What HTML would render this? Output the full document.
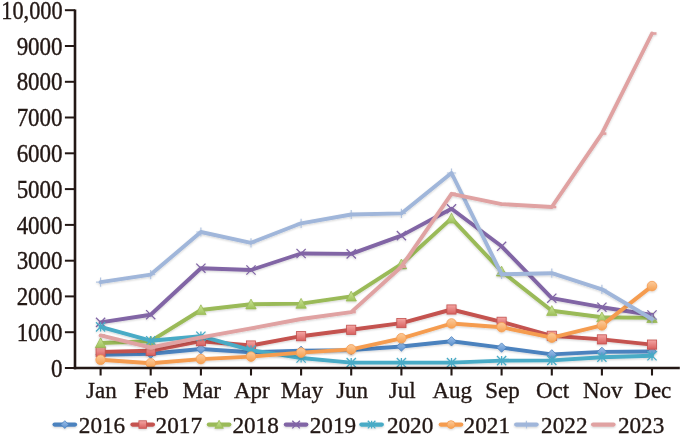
<!DOCTYPE html>
<html><head><meta charset="utf-8"><title>chart</title>
<style>
html,body{margin:0;padding:0;background:#fff;}
svg{display:block;}
text{font-family:"Liberation Serif",serif;font-size:23px;fill:#231815;stroke:#231815;stroke-width:0.35px;}
</style></head><body>
<svg width="685" height="436" viewBox="0 0 685 436">
<defs>
<linearGradient id="g_diamond" x1="0" y1="0" x2="0" y2="1"><stop offset="0" stop-color="#9cc0ea"/><stop offset="1" stop-color="#5a8fcc"/></linearGradient>
<linearGradient id="g_square" x1="0" y1="0" x2="0" y2="1"><stop offset="0" stop-color="#f4a6a4"/><stop offset="1" stop-color="#d8605e"/></linearGradient>
<linearGradient id="g_triangle" x1="0" y1="0" x2="0" y2="1"><stop offset="0" stop-color="#cde69a"/><stop offset="1" stop-color="#9dc05a"/></linearGradient>
<linearGradient id="g_circle" x1="0" y1="0" x2="0" y2="1"><stop offset="0" stop-color="#fccb9c"/><stop offset="1" stop-color="#f6a050"/></linearGradient>
<filter id="sh" filterUnits="userSpaceOnUse" x="0" y="0" width="685" height="436"><feGaussianBlur in="SourceAlpha" stdDeviation="1.2"/><feOffset dx="0" dy="1.2" result="b"/><feComponentTransfer><feFuncA type="linear" slope="0.18"/></feComponentTransfer><feMerge><feMergeNode/><feMergeNode in="SourceGraphic"/></feMerge></filter>
</defs>
<rect width="685" height="436" fill="#fff"/>

<g filter="url(#sh)"><polyline points="100.6,354.8 150.7,353.7 200.9,349.0 251.0,352.3 301.1,350.8 351.2,350.1 401.4,346.5 451.5,341.3 501.6,347.6 551.8,354.4 601.9,351.9 652.0,351.5" fill="none" stroke="#4C82BE" stroke-width="3.9" stroke-linejoin="round" stroke-linecap="round"/>
<path d="M100.6,350.1 L105.3,354.8 L100.6,359.5 L95.9,354.8 Z" fill="url(#g_diamond)" stroke="#4C82BE" stroke-width="0.8"/>
<path d="M150.7,349.0 L155.4,353.7 L150.7,358.4 L146.0,353.7 Z" fill="url(#g_diamond)" stroke="#4C82BE" stroke-width="0.8"/>
<path d="M200.9,344.3 L205.6,349.0 L200.9,353.7 L196.2,349.0 Z" fill="url(#g_diamond)" stroke="#4C82BE" stroke-width="0.8"/>
<path d="M251.0,347.6 L255.7,352.3 L251.0,357.0 L246.3,352.3 Z" fill="url(#g_diamond)" stroke="#4C82BE" stroke-width="0.8"/>
<path d="M301.1,346.1 L305.8,350.8 L301.1,355.5 L296.4,350.8 Z" fill="url(#g_diamond)" stroke="#4C82BE" stroke-width="0.8"/>
<path d="M351.2,345.4 L355.9,350.1 L351.2,354.8 L346.6,350.1 Z" fill="url(#g_diamond)" stroke="#4C82BE" stroke-width="0.8"/>
<path d="M401.4,341.8 L406.1,346.5 L401.4,351.2 L396.7,346.5 Z" fill="url(#g_diamond)" stroke="#4C82BE" stroke-width="0.8"/>
<path d="M451.5,336.6 L456.2,341.3 L451.5,346.0 L446.8,341.3 Z" fill="url(#g_diamond)" stroke="#4C82BE" stroke-width="0.8"/>
<path d="M501.6,342.9 L506.3,347.6 L501.6,352.3 L496.9,347.6 Z" fill="url(#g_diamond)" stroke="#4C82BE" stroke-width="0.8"/>
<path d="M551.8,349.7 L556.5,354.4 L551.8,359.1 L547.1,354.4 Z" fill="url(#g_diamond)" stroke="#4C82BE" stroke-width="0.8"/>
<path d="M601.9,347.2 L606.6,351.9 L601.9,356.6 L597.2,351.9 Z" fill="url(#g_diamond)" stroke="#4C82BE" stroke-width="0.8"/>
<path d="M652.0,346.8 L656.7,351.5 L652.0,356.2 L647.3,351.5 Z" fill="url(#g_diamond)" stroke="#4C82BE" stroke-width="0.8"/>
</g>
<g filter="url(#sh)"><polyline points="100.6,351.9 150.7,350.8 200.9,341.2 251.0,345.5 301.1,336.2 351.2,329.8 401.4,323.1 451.5,309.5 501.6,321.8 551.8,335.8 601.9,339.4 652.0,344.6" fill="none" stroke="#C4524F" stroke-width="3.9" stroke-linejoin="round" stroke-linecap="round"/>
<rect x="96.0" y="347.3" width="9.2" height="9.2" fill="url(#g_square)" stroke="#C4524F" stroke-width="0.8"/>
<rect x="146.1" y="346.2" width="9.2" height="9.2" fill="url(#g_square)" stroke="#C4524F" stroke-width="0.8"/>
<rect x="196.3" y="336.6" width="9.2" height="9.2" fill="url(#g_square)" stroke="#C4524F" stroke-width="0.8"/>
<rect x="246.4" y="340.9" width="9.2" height="9.2" fill="url(#g_square)" stroke="#C4524F" stroke-width="0.8"/>
<rect x="296.5" y="331.6" width="9.2" height="9.2" fill="url(#g_square)" stroke="#C4524F" stroke-width="0.8"/>
<rect x="346.6" y="325.2" width="9.2" height="9.2" fill="url(#g_square)" stroke="#C4524F" stroke-width="0.8"/>
<rect x="396.8" y="318.5" width="9.2" height="9.2" fill="url(#g_square)" stroke="#C4524F" stroke-width="0.8"/>
<rect x="446.9" y="304.9" width="9.2" height="9.2" fill="url(#g_square)" stroke="#C4524F" stroke-width="0.8"/>
<rect x="497.0" y="317.2" width="9.2" height="9.2" fill="url(#g_square)" stroke="#C4524F" stroke-width="0.8"/>
<rect x="547.2" y="331.2" width="9.2" height="9.2" fill="url(#g_square)" stroke="#C4524F" stroke-width="0.8"/>
<rect x="597.3" y="334.8" width="9.2" height="9.2" fill="url(#g_square)" stroke="#C4524F" stroke-width="0.8"/>
<rect x="647.4" y="340.0" width="9.2" height="9.2" fill="url(#g_square)" stroke="#C4524F" stroke-width="0.8"/>
</g>
<g filter="url(#sh)"><polyline points="100.6,343.0 150.7,341.2 200.9,310.0 251.0,304.3 301.1,303.6 351.2,296.4 401.4,264.2 451.5,218.4 501.6,271.4 551.8,310.8 601.9,317.2 652.0,317.9" fill="none" stroke="#9ABA58" stroke-width="3.9" stroke-linejoin="round" stroke-linecap="round"/>
<path d="M100.6,337.8 L105.8,347.6 L95.4,347.6 Z" fill="url(#g_triangle)" stroke="#9ABA58" stroke-width="0.8"/>
<path d="M150.7,336.0 L155.9,345.8 L145.5,345.8 Z" fill="url(#g_triangle)" stroke="#9ABA58" stroke-width="0.8"/>
<path d="M200.9,304.8 L206.1,314.6 L195.7,314.6 Z" fill="url(#g_triangle)" stroke="#9ABA58" stroke-width="0.8"/>
<path d="M251.0,299.1 L256.2,308.9 L245.8,308.9 Z" fill="url(#g_triangle)" stroke="#9ABA58" stroke-width="0.8"/>
<path d="M301.1,298.4 L306.3,308.2 L295.9,308.2 Z" fill="url(#g_triangle)" stroke="#9ABA58" stroke-width="0.8"/>
<path d="M351.2,291.2 L356.4,301.0 L346.1,301.0 Z" fill="url(#g_triangle)" stroke="#9ABA58" stroke-width="0.8"/>
<path d="M401.4,259.0 L406.6,268.8 L396.2,268.8 Z" fill="url(#g_triangle)" stroke="#9ABA58" stroke-width="0.8"/>
<path d="M451.5,213.2 L456.7,223.0 L446.3,223.0 Z" fill="url(#g_triangle)" stroke="#9ABA58" stroke-width="0.8"/>
<path d="M501.6,266.2 L506.8,276.0 L496.4,276.0 Z" fill="url(#g_triangle)" stroke="#9ABA58" stroke-width="0.8"/>
<path d="M551.8,305.6 L557.0,315.4 L546.6,315.4 Z" fill="url(#g_triangle)" stroke="#9ABA58" stroke-width="0.8"/>
<path d="M601.9,312.0 L607.1,321.8 L596.7,321.8 Z" fill="url(#g_triangle)" stroke="#9ABA58" stroke-width="0.8"/>
<path d="M652.0,312.7 L657.2,322.5 L646.8,322.5 Z" fill="url(#g_triangle)" stroke="#9ABA58" stroke-width="0.8"/>
</g>
<g filter="url(#sh)"><polyline points="100.6,322.4 150.7,314.7 200.9,268.2 251.0,270.0 301.1,253.5 351.2,253.9 401.4,235.6 451.5,208.8 501.6,246.3 551.8,298.2 601.9,307.2 652.0,315.0" fill="none" stroke="#8165A5" stroke-width="3.9" stroke-linejoin="round" stroke-linecap="round"/>
<path d="M96.0,317.8 L105.2,327.0 M105.2,317.8 L96.0,327.0" stroke="#8165A5" stroke-width="1.3" fill="none"/>
<path d="M146.1,310.1 L155.3,319.3 M155.3,310.1 L146.1,319.3" stroke="#8165A5" stroke-width="1.3" fill="none"/>
<path d="M196.3,263.6 L205.5,272.8 M205.5,263.6 L196.3,272.8" stroke="#8165A5" stroke-width="1.3" fill="none"/>
<path d="M246.4,265.4 L255.6,274.6 M255.6,265.4 L246.4,274.6" stroke="#8165A5" stroke-width="1.3" fill="none"/>
<path d="M296.5,248.9 L305.7,258.1 M305.7,248.9 L296.5,258.1" stroke="#8165A5" stroke-width="1.3" fill="none"/>
<path d="M346.6,249.3 L355.9,258.5 M355.9,249.3 L346.6,258.5" stroke="#8165A5" stroke-width="1.3" fill="none"/>
<path d="M396.8,231.0 L406.0,240.2 M406.0,231.0 L396.8,240.2" stroke="#8165A5" stroke-width="1.3" fill="none"/>
<path d="M446.9,204.2 L456.1,213.4 M456.1,204.2 L446.9,213.4" stroke="#8165A5" stroke-width="1.3" fill="none"/>
<path d="M497.0,241.7 L506.2,250.9 M506.2,241.7 L497.0,250.9" stroke="#8165A5" stroke-width="1.3" fill="none"/>
<path d="M547.2,293.6 L556.4,302.8 M556.4,293.6 L547.2,302.8" stroke="#8165A5" stroke-width="1.3" fill="none"/>
<path d="M597.3,302.6 L606.5,311.8 M606.5,302.6 L597.3,311.8" stroke="#8165A5" stroke-width="1.3" fill="none"/>
<path d="M647.4,310.4 L656.6,319.6 M656.6,310.4 L647.4,319.6" stroke="#8165A5" stroke-width="1.3" fill="none"/>
</g>
<g filter="url(#sh)"><polyline points="100.6,326.9 150.7,340.7 200.9,336.2 251.0,350.1 301.1,358.0 351.2,362.6 401.4,362.6 451.5,362.6 501.6,360.6 551.8,360.4 601.9,357.2 652.0,355.8" fill="none" stroke="#48ABC6" stroke-width="3.9" stroke-linejoin="round" stroke-linecap="round"/>
<path d="M96.0,322.3 L105.2,331.5 M105.2,322.3 L96.0,331.5 M100.6,322.3 L100.6,331.5" stroke="#48ABC6" stroke-width="1.3" fill="none"/>
<path d="M146.1,336.1 L155.3,345.3 M155.3,336.1 L146.1,345.3 M150.7,336.1 L150.7,345.3" stroke="#48ABC6" stroke-width="1.3" fill="none"/>
<path d="M196.3,331.6 L205.5,340.8 M205.5,331.6 L196.3,340.8 M200.9,331.6 L200.9,340.8" stroke="#48ABC6" stroke-width="1.3" fill="none"/>
<path d="M246.4,345.5 L255.6,354.7 M255.6,345.5 L246.4,354.7 M251.0,345.5 L251.0,354.7" stroke="#48ABC6" stroke-width="1.3" fill="none"/>
<path d="M296.5,353.4 L305.7,362.6 M305.7,353.4 L296.5,362.6 M301.1,353.4 L301.1,362.6" stroke="#48ABC6" stroke-width="1.3" fill="none"/>
<path d="M346.6,358.0 L355.9,367.2 M355.9,358.0 L346.6,367.2 M351.2,358.0 L351.2,367.2" stroke="#48ABC6" stroke-width="1.3" fill="none"/>
<path d="M396.8,358.0 L406.0,367.2 M406.0,358.0 L396.8,367.2 M401.4,358.0 L401.4,367.2" stroke="#48ABC6" stroke-width="1.3" fill="none"/>
<path d="M446.9,358.0 L456.1,367.2 M456.1,358.0 L446.9,367.2 M451.5,358.0 L451.5,367.2" stroke="#48ABC6" stroke-width="1.3" fill="none"/>
<path d="M497.0,356.0 L506.2,365.2 M506.2,356.0 L497.0,365.2 M501.6,356.0 L501.6,365.2" stroke="#48ABC6" stroke-width="1.3" fill="none"/>
<path d="M547.2,355.8 L556.4,365.0 M556.4,355.8 L547.2,365.0 M551.8,355.8 L551.8,365.0" stroke="#48ABC6" stroke-width="1.3" fill="none"/>
<path d="M597.3,352.6 L606.5,361.8 M606.5,352.6 L597.3,361.8 M601.9,352.6 L601.9,361.8" stroke="#48ABC6" stroke-width="1.3" fill="none"/>
<path d="M647.4,351.2 L656.6,360.4 M656.6,351.2 L647.4,360.4 M652.0,351.2 L652.0,360.4" stroke="#48ABC6" stroke-width="1.3" fill="none"/>
</g>
<g filter="url(#sh)"><polyline points="100.6,359.8 150.7,363.3 200.9,359.1 251.0,356.6 301.1,352.6 351.2,349.4 401.4,338.3 451.5,323.5 501.6,327.2 551.8,337.6 601.9,325.4 652.0,286.1" fill="none" stroke="#F59C50" stroke-width="3.9" stroke-linejoin="round" stroke-linecap="round"/>
<circle cx="100.6" cy="359.8" r="4.80" fill="url(#g_circle)" stroke="#F59C50" stroke-width="0.8"/>
<circle cx="150.7" cy="363.3" r="4.80" fill="url(#g_circle)" stroke="#F59C50" stroke-width="0.8"/>
<circle cx="200.9" cy="359.1" r="4.80" fill="url(#g_circle)" stroke="#F59C50" stroke-width="0.8"/>
<circle cx="251.0" cy="356.6" r="4.80" fill="url(#g_circle)" stroke="#F59C50" stroke-width="0.8"/>
<circle cx="301.1" cy="352.6" r="4.80" fill="url(#g_circle)" stroke="#F59C50" stroke-width="0.8"/>
<circle cx="351.2" cy="349.4" r="4.80" fill="url(#g_circle)" stroke="#F59C50" stroke-width="0.8"/>
<circle cx="401.4" cy="338.3" r="4.80" fill="url(#g_circle)" stroke="#F59C50" stroke-width="0.8"/>
<circle cx="451.5" cy="323.5" r="4.80" fill="url(#g_circle)" stroke="#F59C50" stroke-width="0.8"/>
<circle cx="501.6" cy="327.2" r="4.80" fill="url(#g_circle)" stroke="#F59C50" stroke-width="0.8"/>
<circle cx="551.8" cy="337.6" r="4.80" fill="url(#g_circle)" stroke="#F59C50" stroke-width="0.8"/>
<circle cx="601.9" cy="325.4" r="4.80" fill="url(#g_circle)" stroke="#F59C50" stroke-width="0.8"/>
<circle cx="652.0" cy="286.1" r="4.80" fill="url(#g_circle)" stroke="#F59C50" stroke-width="0.8"/>
</g>
<g filter="url(#sh)"><polyline points="100.6,282.1 150.7,274.6 200.9,232.0 251.0,242.8 301.1,223.3 351.2,214.5 401.4,213.4 451.5,173.0 501.6,274.3 551.8,273.2 601.9,289.3 652.0,319.0" fill="none" stroke="#A0B6DA" stroke-width="3.9" stroke-linejoin="round" stroke-linecap="round"/>
<path d="M100.6,277.5 L100.6,286.7 M96.0,282.1 L105.2,282.1" stroke="#A0B6DA" stroke-width="1.2" fill="none" opacity="0.8"/>
<path d="M150.7,270.0 L150.7,279.2 M146.1,274.6 L155.3,274.6" stroke="#A0B6DA" stroke-width="1.2" fill="none" opacity="0.8"/>
<path d="M200.9,227.4 L200.9,236.6 M196.3,232.0 L205.5,232.0" stroke="#A0B6DA" stroke-width="1.2" fill="none" opacity="0.8"/>
<path d="M251.0,238.2 L251.0,247.4 M246.4,242.8 L255.6,242.8" stroke="#A0B6DA" stroke-width="1.2" fill="none" opacity="0.8"/>
<path d="M301.1,218.7 L301.1,227.9 M296.5,223.3 L305.7,223.3" stroke="#A0B6DA" stroke-width="1.2" fill="none" opacity="0.8"/>
<path d="M351.2,209.9 L351.2,219.1 M346.6,214.5 L355.9,214.5" stroke="#A0B6DA" stroke-width="1.2" fill="none" opacity="0.8"/>
<path d="M401.4,208.8 L401.4,218.0 M396.8,213.4 L406.0,213.4" stroke="#A0B6DA" stroke-width="1.2" fill="none" opacity="0.8"/>
<path d="M451.5,168.4 L451.5,177.6 M446.9,173.0 L456.1,173.0" stroke="#A0B6DA" stroke-width="1.2" fill="none" opacity="0.8"/>
<path d="M501.6,269.7 L501.6,278.9 M497.0,274.3 L506.2,274.3" stroke="#A0B6DA" stroke-width="1.2" fill="none" opacity="0.8"/>
<path d="M551.8,268.6 L551.8,277.8 M547.2,273.2 L556.4,273.2" stroke="#A0B6DA" stroke-width="1.2" fill="none" opacity="0.8"/>
<path d="M601.9,284.7 L601.9,293.9 M597.3,289.3 L606.5,289.3" stroke="#A0B6DA" stroke-width="1.2" fill="none" opacity="0.8"/>
<path d="M652.0,314.4 L652.0,323.6 M647.4,319.0 L656.6,319.0" stroke="#A0B6DA" stroke-width="1.2" fill="none" opacity="0.8"/>
</g>
<g filter="url(#sh)"><polyline points="100.6,335.4 150.7,347.5 200.9,337.4 251.0,328.3 301.1,319.0 351.2,312.1 401.4,266.7 451.5,193.8 501.6,204.1 551.8,207.0 601.9,133.6 652.0,33.5" fill="none" stroke="#E0A2A2" stroke-width="3.9" stroke-linejoin="round" stroke-linecap="round"/>
<path d="M100.6,335.4 L105.1,335.4" stroke="#E0A2A2" stroke-width="2.6" fill="none"/>
<path d="M150.7,347.5 L155.2,347.5" stroke="#E0A2A2" stroke-width="2.6" fill="none"/>
<path d="M200.9,337.4 L205.4,337.4" stroke="#E0A2A2" stroke-width="2.6" fill="none"/>
<path d="M251.0,328.3 L255.5,328.3" stroke="#E0A2A2" stroke-width="2.6" fill="none"/>
<path d="M301.1,319.0 L305.6,319.0" stroke="#E0A2A2" stroke-width="2.6" fill="none"/>
<path d="M351.2,312.1 L355.8,312.1" stroke="#E0A2A2" stroke-width="2.6" fill="none"/>
<path d="M401.4,266.7 L405.9,266.7" stroke="#E0A2A2" stroke-width="2.6" fill="none"/>
<path d="M451.5,193.8 L456.0,193.8" stroke="#E0A2A2" stroke-width="2.6" fill="none"/>
<path d="M501.6,204.1 L506.1,204.1" stroke="#E0A2A2" stroke-width="2.6" fill="none"/>
<path d="M551.8,207.0 L556.3,207.0" stroke="#E0A2A2" stroke-width="2.6" fill="none"/>
<path d="M601.9,133.6 L606.4,133.6" stroke="#E0A2A2" stroke-width="2.6" fill="none"/>
<path d="M652.0,33.5 L656.5,33.5" stroke="#E0A2A2" stroke-width="2.6" fill="none"/>
</g>
<path d="M75,9.6 L75,369.3" stroke="#231815" stroke-width="2.6" fill="none"/>
<path d="M73.8,368.0 L679.8,368.0" stroke="#231815" stroke-width="2.6" fill="none"/>
<path d="M64.9,368.0 L75,368.0" stroke="#231815" stroke-width="2.0" fill="none"/>
<path d="M64.9,332.2 L75,332.2" stroke="#231815" stroke-width="2.0" fill="none"/>
<path d="M64.9,296.4 L75,296.4" stroke="#231815" stroke-width="2.0" fill="none"/>
<path d="M64.9,260.7 L75,260.7" stroke="#231815" stroke-width="2.0" fill="none"/>
<path d="M64.9,224.9 L75,224.9" stroke="#231815" stroke-width="2.0" fill="none"/>
<path d="M64.9,189.1 L75,189.1" stroke="#231815" stroke-width="2.0" fill="none"/>
<path d="M64.9,153.3 L75,153.3" stroke="#231815" stroke-width="2.0" fill="none"/>
<path d="M64.9,117.5 L75,117.5" stroke="#231815" stroke-width="2.0" fill="none"/>
<path d="M64.9,81.8 L75,81.8" stroke="#231815" stroke-width="2.0" fill="none"/>
<path d="M64.9,46.0 L75,46.0" stroke="#231815" stroke-width="2.0" fill="none"/>
<path d="M64.9,10.2 L75,10.2" stroke="#231815" stroke-width="2.0" fill="none"/>
<path d="M100.6,368 L100.6,375.5" stroke="#231815" stroke-width="2.1" fill="none"/>
<path d="M150.7,368 L150.7,375.5" stroke="#231815" stroke-width="2.1" fill="none"/>
<path d="M200.9,368 L200.9,375.5" stroke="#231815" stroke-width="2.1" fill="none"/>
<path d="M251.0,368 L251.0,375.5" stroke="#231815" stroke-width="2.1" fill="none"/>
<path d="M301.1,368 L301.1,375.5" stroke="#231815" stroke-width="2.1" fill="none"/>
<path d="M351.2,368 L351.2,375.5" stroke="#231815" stroke-width="2.1" fill="none"/>
<path d="M401.4,368 L401.4,375.5" stroke="#231815" stroke-width="2.1" fill="none"/>
<path d="M451.5,368 L451.5,375.5" stroke="#231815" stroke-width="2.1" fill="none"/>
<path d="M501.6,368 L501.6,375.5" stroke="#231815" stroke-width="2.1" fill="none"/>
<path d="M551.8,368 L551.8,375.5" stroke="#231815" stroke-width="2.1" fill="none"/>
<path d="M601.9,368 L601.9,375.5" stroke="#231815" stroke-width="2.1" fill="none"/>
<path d="M652.0,368 L652.0,375.5" stroke="#231815" stroke-width="2.1" fill="none"/>
<text transform="translate(62.6,376.6) scale(1,1.085)" text-anchor="end">0</text>
<text transform="translate(62.6,340.8) scale(1,1.085)" text-anchor="end">1000</text>
<text transform="translate(62.6,305.0) scale(1,1.085)" text-anchor="end">2000</text>
<text transform="translate(62.6,269.3) scale(1,1.085)" text-anchor="end">3000</text>
<text transform="translate(62.6,233.5) scale(1,1.085)" text-anchor="end">4000</text>
<text transform="translate(62.6,197.7) scale(1,1.085)" text-anchor="end">5000</text>
<text transform="translate(62.6,161.9) scale(1,1.085)" text-anchor="end">6000</text>
<text transform="translate(62.6,126.1) scale(1,1.085)" text-anchor="end">7000</text>
<text transform="translate(62.6,90.4) scale(1,1.085)" text-anchor="end">8000</text>
<text transform="translate(62.6,54.6) scale(1,1.085)" text-anchor="end">9000</text>
<text transform="translate(62.6,18.8) scale(0.97,1.085)" text-anchor="end">10,000</text>
<text transform="translate(101.4,397.8) scale(1,1.04)" text-anchor="middle">Jan</text>
<text transform="translate(151.5,397.8) scale(1,1.04)" text-anchor="middle">Feb</text>
<text transform="translate(201.7,397.8) scale(1,1.04)" text-anchor="middle">Mar</text>
<text transform="translate(251.8,397.8) scale(1,1.04)" text-anchor="middle">Apr</text>
<text transform="translate(301.9,397.8) scale(1,1.04)" text-anchor="middle">May</text>
<text transform="translate(352.1,397.8) scale(1,1.04)" text-anchor="middle">Jun</text>
<text transform="translate(402.2,397.8) scale(1,1.04)" text-anchor="middle">Jul</text>
<text transform="translate(452.3,397.8) scale(1,1.04)" text-anchor="middle">Aug</text>
<text transform="translate(502.4,397.8) scale(1,1.04)" text-anchor="middle">Sep</text>
<text transform="translate(552.6,397.8) scale(1,1.04)" text-anchor="middle">Oct</text>
<text transform="translate(602.7,397.8) scale(1,1.04)" text-anchor="middle">Nov</text>
<text transform="translate(652.8,397.8) scale(1,1.04)" text-anchor="middle">Dec</text>
<g filter="url(#sh)"><path d="M54.6,424.6 L75.0,424.6" stroke="#4C82BE" stroke-width="4.3" stroke-linecap="round" fill="none"/>
<path d="M64.8,420.7 L68.7,424.6 L64.8,428.5 L60.9,424.6 Z" fill="url(#g_diamond)" stroke="#4C82BE" stroke-width="0.8"/>
</g>
<text transform="translate(78.8,432.5) scale(1.01,1.04)">2016</text>
<g filter="url(#sh)"><path d="M132.5,424.6 L152.9,424.6" stroke="#C4524F" stroke-width="4.3" stroke-linecap="round" fill="none"/>
<rect x="138.9" y="420.8" width="7.5" height="7.5" fill="url(#g_square)" stroke="#C4524F" stroke-width="0.8"/>
</g>
<text transform="translate(155.6,432.5) scale(1.01,1.04)">2017</text>
<g filter="url(#sh)"><path d="M208.9,424.6 L229.3,424.6" stroke="#9ABA58" stroke-width="4.3" stroke-linecap="round" fill="none"/>
<path d="M219.1,420.3 L223.4,428.3 L214.8,428.3 Z" fill="url(#g_triangle)" stroke="#9ABA58" stroke-width="0.8"/>
</g>
<text transform="translate(232.4,432.5) scale(1.01,1.04)">2018</text>
<g filter="url(#sh)"><path d="M285.9,424.6 L306.3,424.6" stroke="#8165A5" stroke-width="4.3" stroke-linecap="round" fill="none"/>
<path d="M292.3,420.8 L299.9,428.4 M299.9,420.8 L292.3,428.4" stroke="#8165A5" stroke-width="1.3" fill="none"/>
</g>
<text transform="translate(309.7,432.5) scale(1.01,1.04)">2019</text>
<g filter="url(#sh)"><path d="M361.4,424.6 L381.8,424.6" stroke="#48ABC6" stroke-width="4.3" stroke-linecap="round" fill="none"/>
<path d="M367.8,420.8 L375.4,428.4 M375.4,420.8 L367.8,428.4 M371.6,420.8 L371.6,428.4" stroke="#48ABC6" stroke-width="1.3" fill="none"/>
</g>
<text transform="translate(386.9,432.5) scale(1.01,1.04)">2020</text>
<g filter="url(#sh)"><path d="M440.8,424.6 L461.2,424.6" stroke="#F59C50" stroke-width="4.3" stroke-linecap="round" fill="none"/>
<circle cx="451.0" cy="424.6" r="3.94" fill="url(#g_circle)" stroke="#F59C50" stroke-width="0.8"/>
</g>
<text transform="translate(463.6,432.5) scale(1.01,1.04)">2021</text>
<g filter="url(#sh)"><path d="M516.2,424.6 L536.6,424.6" stroke="#A0B6DA" stroke-width="4.3" stroke-linecap="round" fill="none"/>
<path d="M526.4,420.8 L526.4,428.4 M522.6,424.6 L530.2,424.6" stroke="#A0B6DA" stroke-width="1.2" fill="none" opacity="0.8"/>
</g>
<text transform="translate(541.1,432.5) scale(1.01,1.04)">2022</text>
<g filter="url(#sh)"><path d="M593.1,424.6 L613.5,424.6" stroke="#E0A2A2" stroke-width="4.3" stroke-linecap="round" fill="none"/>
<path d="M603.3,424.6 L607.8,424.6" stroke="#E0A2A2" stroke-width="2.6" fill="none"/>
</g>
<text transform="translate(617.9,432.5) scale(1.01,1.04)">2023</text>
</svg></body></html>
